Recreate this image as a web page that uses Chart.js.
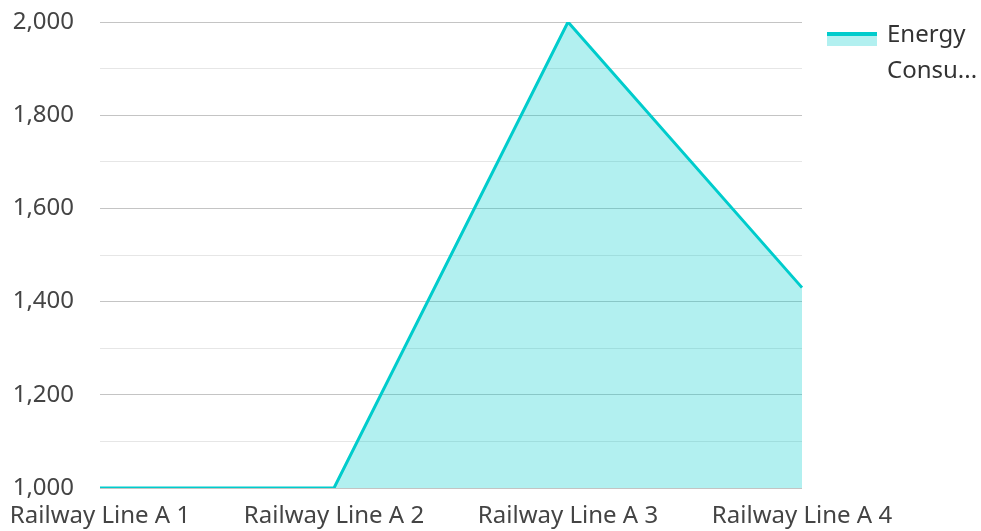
<!DOCTYPE html>
<html>
<head>
<meta charset="utf-8">
<script src="https://cdn.jsdelivr.net/npm/chart.js@4"></script>
<style>
  html, body { margin: 0; padding: 0; background: #fff; }
  #wrap { width: 981px; height: 531px; }
</style>
</head>
<body>
<div id="wrap"><canvas id="myChart" width="981" height="531"></canvas></div>
<script>
// data
var categories = ['Railway Line A 1', 'Railway Line A 2', 'Railway Line A 3', 'Railway Line A 4'];
var energyValues = [1000, 1000, 2000, 1430];
var seriesLabel = 'Energy Consumption';
var yTicks = [1000, 1200, 1400, 1600, 1800, 2000];

var teal = '#00CCCC';
var tealFill = 'rgba(0, 204, 204, 0.3)';

// legend on the right, drawn by hand so the label wraps like the original
var sideLegend = {
  id: 'sideLegend',
  afterDraw: function (chart) {
    var ctx = chart.ctx;
    ctx.save();
    ctx.fillStyle = tealFill;
    ctx.fillRect(827, 33, 50, 13);
    ctx.fillStyle = teal;
    ctx.fillRect(827, 32, 50, 4);
    ctx.fillStyle = '#333';
    ctx.font = '24px "Noto Sans"';
    ctx.textBaseline = 'middle';
    var words = seriesLabel.split(' ');
    ctx.fillText(words[0], 887, 35);
    ctx.fillText(words[1].slice(0, 5) + '...', 887, 71);
    ctx.restore();
  }
};

// let the labels hang over the edges instead of pushing the plot in
function noEdgePadding(scale) {
  scale.paddingLeft = 0;
  scale.paddingRight = 0;
  scale.paddingTop = 0;
  scale.paddingBottom = 0;
}

var ctx = document.getElementById('myChart').getContext('2d');
var myChart = new Chart(ctx, {
  type: 'line',
  data: {
    labels: categories,
    datasets: [
      {
        label: seriesLabel,
        data: energyValues,
        borderColor: teal,
        backgroundColor: tealFill,
        borderWidth: 3,
        fill: 'origin',
        pointRadius: 0,
        tension: 0,
      },
    ],
  },
  plugins: [sideLegend],
  options: {
    responsive: false,
    animation: false,
    layout: {
      padding: { left: 12, right: 179, top: 22, bottom: 0 },
    },
    plugins: {
      legend: { display: false },
      tooltip: { enabled: false },
    },
    scales: {
      x: {
        offset: false,
        afterFit: function (scale) {
          noEdgePadding(scale);
          scale.height = 43;
        },
        grid: { display: false, drawTicks: false },
        border: { display: false },
        ticks: {
          color: '#444',
          padding: 14,
          maxRotation: 0,
          autoSkip: false,
          font: { family: 'Noto Sans', size: 24 },
        },
      },
      y: {
        min: 1000,
        max: 2000,
        afterFit: function (scale) {
          noEdgePadding(scale);
          scale.width = 88;
        },
        border: { display: false },
        grid: {
          drawTicks: false,
          color: function (c) {
            return yTicks.indexOf(c.tick.value) >= 0 ? '#c4c4c4' : '#e6e6e6';
          },
        },
        ticks: {
          stepSize: 100,
          color: '#444',
          padding: 26,
          autoSkip: false,
          font: { family: 'Noto Sans', size: 24 },
          callback: function (value) {
            return yTicks.indexOf(value) >= 0 ? value.toLocaleString('en-US') : '';
          },
        },
      },
    },
  },
});
</script>
</body>
</html>
